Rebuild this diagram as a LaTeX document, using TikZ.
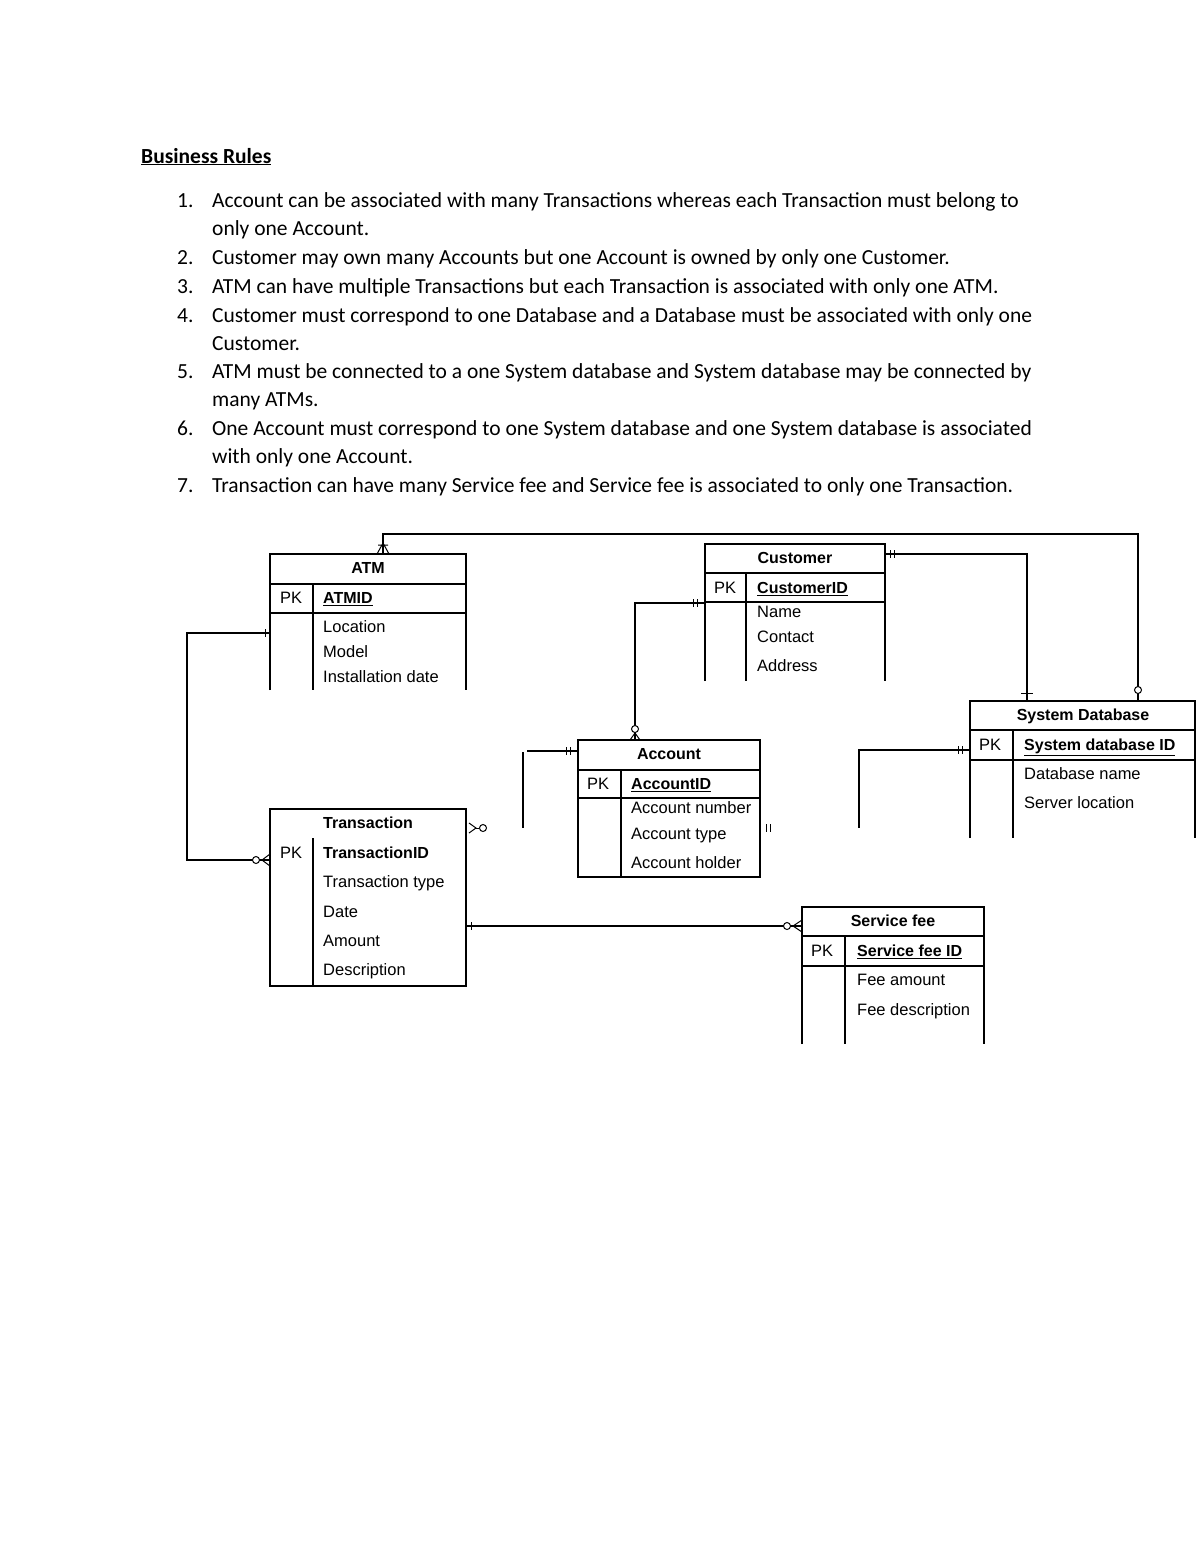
\documentclass[tikz,border=0pt]{standalone}
\usepackage{fontspec}
\setmainfont{Carlito}
\newfontfamily\arial{Liberation Sans}
\begin{document}
\begin{tikzpicture}[x=1pt,y=-1pt,
  box/.style={line width=1.4pt},
  conn/.style={line width=1.2pt},
  mk/.style={line width=1pt},
  ocirc/.style={line width=1pt, fill=white},
  rule/.style={anchor=base west, inner sep=0pt, yshift=-2pt, font=\fontsize{21.5}{26}\selectfont},
  ttl/.style={anchor=mid, inner sep=0pt, yshift=-3pt, font=\arial\bfseries\fontsize{16}{18}\selectfont},
  fld/.style={anchor=mid west, inner sep=0pt, yshift=-3pt, font=\arial\fontsize{16.5}{18}\selectfont},
  fldb/.style={anchor=mid west, inner sep=0pt, yshift=-3pt, font=\arial\bfseries\fontsize{16}{18}\selectfont}]
\useasboundingbox (0,0) rectangle (1200,1553);

% ---------- Business rules ----------
\node[rule, font=\bfseries\fontsize{21.5}{26}\selectfont] (title) at (141,161) {\underline{Business Rules}};
\foreach \n/\y/\t in {
  1./205/{Account can be associated with many Transactions whereas each Transaction must belong to},
  /233/{only one Account.},
  2./262/{Customer may own many Accounts but one Account is owned by only one Customer.},
  3./291/{ATM can have multiple Transactions but each Transaction is associated with only one ATM.},
  4./320/{Customer must correspond to one Database and a Database must be associated with only one},
  /348/{Customer.},
  5./376/{ATM must be connected to a one System database and System database may be connected by},
  /404/{many ATMs.},
  6./433/{One Account must correspond to one System database and one System database is associated},
  /461/{with only one Account.},
  7./490/{Transaction can have many Service fee and Service fee is associated to only one Transaction.}}
{
  \node[rule] (num\y) at (177,\y) {\n};
  \node[rule] (txt\y) at (212,\y) {\t};
}

% ---------- ATM ----------
\draw[box] (270,690) -- (270,554) -- (466,554) -- (466,690);
\draw[box] (270,584) -- (466,584) (270,613) -- (466,613) (313,584) -- (313,690);
\node[ttl] (atmT) at (368,568) {ATM};
\node[fld] (atmPK) at (280,598) {PK};
\node[fldb] (atmID) at (323,598) {\underline{ATMID}};
\node[fld] (atm1) at (323,627) {Location};
\node[fld] (atm2) at (323,652) {Model};
\node[fld] (atm3) at (323,677) {Installation date};
\coordinate (atmTop) at (383,554);
\coordinate (atmLeft) at (270,633);

% ---------- Customer ----------
\draw[box] (705,681) -- (705,544) -- (885,544) -- (885,681);
\draw[box] (705,573) -- (885,573) (705,602) -- (885,602) (746,573) -- (746,681);
\node[ttl] (cusT) at (795,558) {Customer};
\node[fld] (cusPK) at (714,588) {PK};
\node[fldb] (cusID) at (757,588) {\underline{CustomerID}};
\node[fld] (cus1) at (757,612) {Name};
\node[fld] (cus2) at (757,637) {Contact};
\node[fld] (cus3) at (757,666) {Address};
\coordinate (cusRight) at (885,554);
\coordinate (cusLeft) at (705,603);

% ---------- System Database ----------
\draw[box] (970,838) -- (970,701) -- (1195,701) -- (1195,838);
\draw[box] (970,730) -- (1195,730) (970,760) -- (1195,760) (1013,730) -- (1013,838);
\node[ttl] (sdbT) at (1083,715) {System Database};
\node[fld] (sdbPK) at (979,745) {PK};
\node[fldb] (sdbID) at (1024,745) {\underline{System database ID}};
\node[fld] (sdb1) at (1024,774) {Database name};
\node[fld] (sdb2) at (1024,803) {Server location};
\coordinate (sdbTopA) at (1027,701);
\coordinate (sdbTopB) at (1138,701);
\coordinate (sdbLeft) at (970,750);

% ---------- Account ----------
\draw[box] (578,740) rectangle (760,877);
\draw[box] (578,770) -- (760,770) (578,798) -- (760,798) (621,770) -- (621,877);
\node[ttl] (accT) at (669,754) {Account};
\node[fld] (accPK) at (587,784) {PK};
\node[fldb] (accID) at (631,784) {\underline{AccountID}};
\node[fld] (acc1) at (631,808) {Account number};
\node[fld] (acc2) at (631,834) {Account type};
\node[fld] (acc3) at (631,863) {Account holder};
\coordinate (accTop) at (635,740);
\coordinate (accLeft) at (578,751);
\coordinate (accRight) at (760,828);

% ---------- Transaction ----------
\draw[box] (270,809) rectangle (466,986);
\draw[box] (313,838) -- (313,986);
\node[fldb] (trT) at (323,823) {Transaction};
\node[fld] (trPK) at (280,853) {PK};
\node[fldb] (trID) at (323,853) {TransactionID};
\node[fld] (tr1) at (323,882) {Transaction type};
\node[fld] (tr2) at (323,912) {Date};
\node[fld] (tr3) at (323,941) {Amount};
\node[fld] (tr4) at (323,970) {Description};
\coordinate (trLeft) at (270,860);
\coordinate (trRight) at (466,926);
\coordinate (trRight2) at (466,828);

% ---------- Service fee ----------
\draw[box] (802,1044) -- (802,907) -- (984,907) -- (984,1044);
\draw[box] (802,936) -- (984,936) (802,966) -- (984,966) (845,936) -- (845,1044);
\node[ttl] (sfT) at (893,921) {Service fee};
\node[fld] (sfPK) at (811,951) {PK};
\node[fldb] (sfID) at (857,951) {\underline{Service fee ID}};
\node[fld] (sf1) at (857,980) {Fee amount};
\node[fld] (sf2) at (857,1010) {Fee description};
\coordinate (sfLeft) at (802,926);

% ---------- Connectors ----------
% ATM -- System Database (top)
\draw[conn] (atmTop) -- ++(0,-20) -| (sdbTopB);
\draw[mk] (377,554) -- (383,543) -- (389,554) (383,543) -- (383,554) (378,545) -- (388,545);
\draw[ocirc] (1138,690) circle[radius=3.5pt];
% Customer -- System Database
\draw[conn] (cusRight) -| (sdbTopA);
\draw[mk] (890,550) -- (890,558) (894,550) -- (894,558);
\draw[mk] (1021,693) -- (1033,693);
% Customer -- Account
\draw[conn] (cusLeft) -| (accTop);
\draw[mk] (693,599) -- (693,607) (697,599) -- (697,607);
\draw[ocirc] (635,729) circle[radius=3.5pt];
\draw[mk] (630,740) -- (635,733) -- (640,740) (635,733) -- (635,740);
% ATM -- Transaction
\draw[conn] (atmLeft) -- ++(-83,0) |- (trLeft);
\draw[mk] (265,629) -- (265,637);
\draw[ocirc] (256,860) circle[radius=3.5pt];
\draw[mk] (270,854) -- (262,860) -- (270,866);
% Transaction -- Service fee
\draw[conn] (trRight) -- (sfLeft);
\draw[mk] (471,922) -- (471,930);
\draw[ocirc] (787,926) circle[radius=3.5pt];
\draw[mk] (802,920) -- (793,926) -- (802,932);
% System Database left stub
\draw[conn] (sdbLeft) -- ++(-111,0) -- ++(0,78);
\draw[mk] (958,746) -- (958,754) (962,746) -- (962,754);
% Account left stub
\draw[conn] (accLeft) -- ++(-51,0);
\draw[conn] (523,752) -- (523,828);
\draw[mk] (566,747) -- (566,755) (570,747) -- (570,755);
% Account / Transaction marks
\draw[mk] (469,823) -- (476,828) -- (469,833);
\draw[mk] (476,828) -- (479,828);
\draw[mk] (483,828) circle[radius=3.5pt];
\draw[mk] (766,824) -- (766,832) (770,824) -- (770,832);
\end{tikzpicture}
\end{document}
